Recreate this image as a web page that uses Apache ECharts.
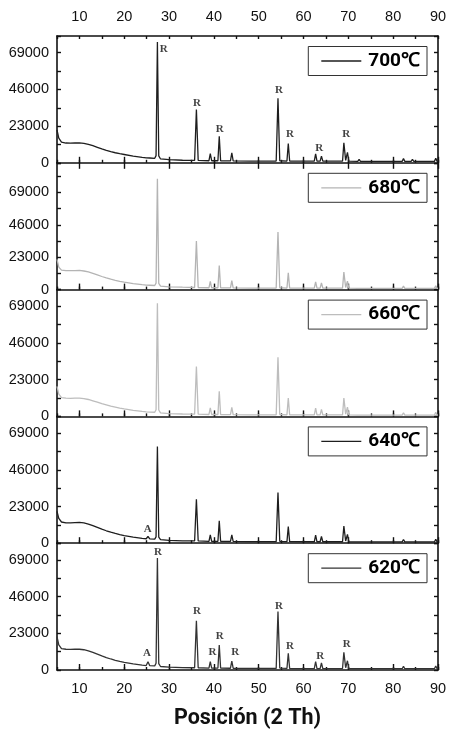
<!DOCTYPE html>
<html>
<head>
<meta charset="utf-8">
<script src="https://cdn.jsdelivr.net/npm/echarts@6/dist/echarts.min.js"></script>
<style>
  html, body { margin: 0; padding: 0; background: #fff; }
  #chart { width: 474px; height: 743px; }
</style>
</head>
<body>
<div id="chart"></div>
<script>
// 2 theta positions shared by all patterns
const twoTheta = [
  5, 5.4, 6, 7, 8, 9,
  10, 11, 12, 13, 14, 15,
  16, 17, 18, 19, 20, 22,
  24, 24.9, 25.3, 25.7, 26.8, 27.1,
  27.4, 27.7, 28.1, 30, 33, 35.7,
  36.1, 36.5, 38.9, 39.2, 39.5, 40.9,
  41.2, 41.5, 43.7, 44.0, 44.3, 48,
  53.9, 54.3, 54.7, 56.3, 56.6, 56.9,
  62.4, 62.7, 63.0, 63.7, 64.0, 64.3,
  65.2, 65.5, 65.8, 68.7, 69.0, 69.4,
  69.8, 70.1, 72.1, 72.4, 72.7, 76.2,
  76.5, 76.8, 82.0, 82.3, 82.6, 84.0,
  84.3, 84.6, 89.2, 89.5, 89.8, 90
]

const int700 = [
  20600, 15500, 13000, 12400, 12300, 12400,
  12500, 12200, 11600, 10700, 9700, 8700,
  7800, 7000, 6300, 5700, 5200, 4200,
  3400, 3100, 3100, 3000, 2800, 4500,
  75800, 4300, 2400, 2000, 1600, 1500,
  33400, 1500, 1300, 5800, 1300, 1300,
  16700, 1300, 1200, 6300, 1200, 1100,
  1100, 40500, 1300, 1100, 12100, 1100,
  1000, 5600, 1000, 1000, 4200, 1000,
  1000, 2200, 1000, 1000, 12500, 1500,
  6600, 1000, 900, 2200, 900, 900,
  1800, 900, 900, 2600, 900, 900,
  2200, 900, 900, 2800, 900, 900
]
const int680 = [
  21400, 16000, 13800, 13500, 13400, 13500,
  13600, 13200, 12500, 11500, 10400, 9300,
  8300, 7400, 6600, 5900, 5300, 4300,
  3500, 3200, 3200, 3100, 2900, 4600,
  78600, 4400, 2500, 2000, 1700, 1500,
  34500, 1500, 1300, 5900, 1300, 1300,
  17100, 1300, 1200, 6400, 1200, 1100,
  1100, 40900, 1300, 1100, 11900, 1100,
  1000, 5500, 1000, 1000, 4800, 1000,
  1000, 2000, 1000, 1000, 12400, 1500,
  6000, 1000, 900, 2000, 900, 900,
  1700, 900, 900, 2400, 900, 900,
  2000, 900, 900, 2600, 900, 900
]
const int660 = [
  18800, 14000, 11800, 11400, 11300, 11400,
  11500, 11200, 10600, 9800, 8900, 8000,
  7200, 6400, 5800, 5200, 4700, 3800,
  3100, 2800, 2800, 2700, 2600, 4200,
  71000, 4000, 2200, 1800, 1500, 1400,
  31300, 1400, 1200, 5300, 1200, 1200,
  15700, 1200, 1100, 5600, 1100, 1000,
  1000, 37000, 1200, 1000, 11500, 1000,
  900, 5200, 900, 900, 4400, 900,
  900, 1900, 900, 900, 11500, 1400,
  5800, 900, 800, 2000, 800, 800,
  1600, 800, 800, 2300, 800, 800,
  2000, 800, 800, 2500, 800, 800
]
const int640 = [
  20000, 15500, 13300, 12800, 12800, 12900,
  13000, 12700, 12000, 11000, 9900, 8800,
  7800, 6900, 6100, 5400, 4800, 3800,
  3000, 2800, 4200, 2700, 2600, 4000,
  60600, 3800, 2200, 1800, 1500, 1400,
  27600, 1400, 1200, 5200, 1200, 1200,
  14000, 1200, 1100, 5200, 1100, 1000,
  1000, 31800, 1200, 1000, 10400, 1000,
  900, 5000, 900, 900, 4200, 900,
  900, 1900, 900, 900, 10800, 1400,
  5500, 900, 800, 2000, 800, 800,
  1600, 800, 800, 2300, 800, 800,
  2000, 800, 800, 2500, 800, 800
]
const int620 = [
  20900, 15800, 13400, 13000, 12900, 13000,
  13000, 12700, 12000, 11000, 9900, 8800,
  7800, 6900, 6100, 5400, 4800, 3800,
  3000, 2800, 5200, 2700, 2600, 4200,
  70200, 4000, 2200, 1800, 1500, 1400,
  30800, 1400, 1200, 5200, 1200, 1200,
  15700, 1200, 1100, 5500, 1100, 1000,
  1000, 36600, 1200, 1000, 10500, 1000,
  900, 5200, 900, 900, 4400, 900,
  900, 1900, 900, 900, 11100, 1400,
  5800, 900, 800, 2000, 800, 800,
  1600, 800, 800, 2300, 800, 800,
  2000, 800, 800, 2500, 800, 800
]

// peak tags: [2theta, intensity, text]
const tags700 = [[28.8, 71400, 'R'], [36.2, 37600, 'R'], [41.3, 21300, 'R'], [54.5, 45500, 'R'],
  [57.0, 17700, 'R'], [63.5, 9400, 'R'], [69.5, 17700, 'R']]
const tags680 = []
const tags660 = []
const tags640 = [[25.25, 8900, 'A']]
const tags620 = [[25.1, 10500, 'A'], [27.5, 73700, 'R'], [36.25, 37100, 'R'], [39.7, 10900, 'R'],
  [41.3, 21400, 'R'], [44.75, 10900, 'R'], [54.5, 39800, 'R'], [57.0, 15100, 'R'],
  [63.7, 8400, 'R'], [69.65, 16300, 'R']]

const sampleNames = ['700℃', '680℃', '660℃', '640℃', '620℃']
const yMaxes = [79500, 90000, 79500, 79500, 79500]
const xTickLabels = ['5', '10', '15', '20', '25', '30', '35', '40', '45', '50',
  '55', '60', '65', '70', '75', '80', '85', '90']
const xTitle = 'Posición (2 Th)'

const patterns = [int700, int680, int660, int640, int620]
const tagSets = [tags700, tags680, tags660, tags640, tags620]
const lineColors = ['#1e1e1e', '#b4b4b4', '#bdbdbd', '#1e1e1e', '#333333']

const chart = echarts.init(document.getElementById('chart'))

const gridTop = 36
const panelH = 126.8
const axisColor = '#111'
const boldFont = "Roboto, 'Liberation Sans', sans-serif"
const tickFont = { fontFamily: "'Liberation Sans', Arial, sans-serif", fontSize: 14.5, color: '#111' }

let grid = [], xAxis = [], yAxis = [], series = [], legend = []
const isMajor = (k) => k % 2 === 1

for (let i = 0; i < 5; i++) {
  grid.push({ left: 57, right: 36, top: gridTop + i * panelH, height: panelH })

  const xVal = xAxis.length
  xAxis.push({
    type: 'value', gridIndex: i, position: 'bottom', min: 5, max: 90, interval: 5,
    axisLine: { onZero: false, lineStyle: { color: axisColor, width: 1.6 } },
    axisTick: { inside: true, length: 3, lineStyle: { color: axisColor, width: 1.4 } },
    axisLabel: { show: false }, splitLine: { show: false }
  })
  xAxis.push({
    type: 'category', gridIndex: i, position: 'bottom', data: xTickLabels, boundaryGap: false,
    axisLine: { show: false },
    axisTick: { inside: true, length: 6, interval: isMajor, lineStyle: { color: axisColor, width: 1.4 } },
    axisLabel: Object.assign({ show: i === 4, interval: isMajor, margin: 11 }, tickFont),
    name: i === 4 ? xTitle : '', nameLocation: 'middle', nameGap: 38,
    nameTextStyle: { fontFamily: boldFont, fontSize: 21.5, fontWeight: 'bold', color: '#111' }
  })
  if (i === 0) {
    xAxis.push({
      type: 'value', gridIndex: 0, position: 'top', min: 5, max: 90, interval: 5,
      axisLine: { onZero: false, lineStyle: { color: axisColor, width: 1.6 } },
      axisTick: { inside: true, length: 3, lineStyle: { color: axisColor, width: 1.4 } },
      axisLabel: { show: false }, splitLine: { show: false }
    })
    xAxis.push({
      type: 'category', gridIndex: 0, position: 'top', data: xTickLabels, boundaryGap: false,
      axisLine: { show: false },
      axisTick: { inside: true, length: 6, interval: isMajor, lineStyle: { color: axisColor, width: 1.4 } },
      axisLabel: Object.assign({ interval: isMajor, margin: 12 }, tickFont)
    })
  }

  const yLeft = yAxis.length
  yAxis.push({
    type: 'value', gridIndex: i, position: 'left', min: 0, max: yMaxes[i], interval: 11500,
    axisLine: { show: true, lineStyle: { color: axisColor, width: 1.6 } },
    axisTick: { inside: true, length: 4, lineStyle: { color: axisColor, width: 1.4 } },
    axisLabel: Object.assign({ margin: 8, formatter: (v) => (v % 23000 === 0 ? String(v) : '') }, tickFont),
    splitLine: { show: false }
  })
  yAxis.push({
    type: 'value', gridIndex: i, position: 'right', min: 0, max: yMaxes[i], interval: 11500,
    axisLine: { show: true, lineStyle: { color: axisColor, width: 1.6 } },
    axisTick: { inside: true, length: 4, lineStyle: { color: axisColor, width: 1.4 } },
    axisLabel: { show: false }, splitLine: { show: false }
  })

  const ys = patterns[i]
  series.push({
    name: sampleNames[i], type: 'line', xAxisIndex: xVal, yAxisIndex: yLeft,
    data: twoTheta.map((x, k) => [x, ys[k]]),
    symbol: 'none', color: lineColors[i],
    lineStyle: { color: lineColors[i], width: 1.3 }
  })
  series.push({
    name: 'tags' + i, type: 'scatter', xAxisIndex: xVal, yAxisIndex: yLeft,
    data: tagSets[i], symbolSize: 0, silent: true,
    label: {
      show: true, position: 'inside', formatter: (p) => p.value[2],
      fontFamily: "'Liberation Serif', 'DejaVu Serif', serif", fontWeight: 'bold', fontSize: 11, color: '#111'
    }
  })

  legend.push({
    data: [sampleNames[i]], right: 47, top: gridTop + i * panelH + 10.5,
    selectedMode: false, borderColor: '#333', borderWidth: 1, borderRadius: 0,
    padding: [5, 7, 5, 13], icon: 'rect', itemWidth: 40, itemHeight: 1.3,
    textStyle: { fontFamily: boldFont, fontSize: 19, fontWeight: 'bold', color: '#000', padding: [0, 0, 0, 2] }
  })
}

chart.setOption({
  animation: false,
  backgroundColor: '#fff',
  grid: grid,
  xAxis: xAxis,
  yAxis: yAxis,
  legend: legend,
  series: series
})
</script>
</body>
</html>
